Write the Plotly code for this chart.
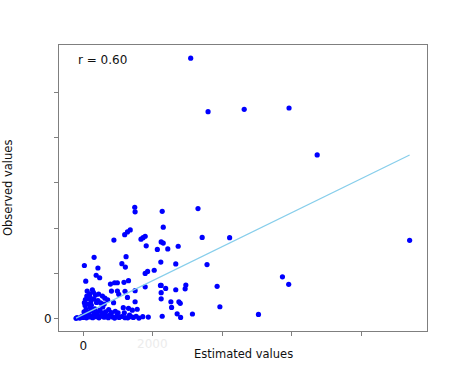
import plotly.graph_objects as go

# Estimated (x) and observed (y) values, in thousands
est_outliers = [30.9, 35.9, 46.3, 59.2, 67.3, 93.9, 57.3, 59.1, 50.4]
obs_outliers = [115.0, 91.4, 92.4, 93.0, 72.3, 34.6, 18.5, 15.2, 1.9]

est_mid = [33.0, 22.7, 23.0, 34.2, 42.1, 22.4, 23.0, 24.3, 27.3, 26.6, 35.6, 22.3,
           14.8, 14.9, 8.8, 11.9, 12.7, 13.5, 16.6, 17.2, 17.8, 18.1, 21.3, 3.1,
           12.3, 11.1, 0.3, 4.2, 12.1, 20.4, 18.5, 17.8, 3.7, 4.7, 0.7, 7.8,
           9.0, 9.8, 11.7, 13.0, 17.8, 22.2, 8.1, 9.8, 12.0, 10.2, 1.1, 2.9,
           4.4, 5.5, 14.9, 22.4, 1.0, 1.9, 6.2, 7.0, 12.7, 14.9, 8.7, 0.3,
           11.5, 13.0, 14.1, 15.5, 11.8, 13.7, 15.2, 17.1, 18.7, 22.7, 38.5, 29.5,
           29.3, 26.6, 23.7, 22.4, 22.4, 25.2, 27.5, 27.9, 25.4, 39.3, 27.0, 28.0, 31.4]
obs_mid = [48.6, 47.4, 40.4, 35.9, 35.8, 33.9, 33.4, 30.8, 32.0, 24.2, 23.9, 25.0,
           49.2, 47.2, 34.7, 37.1, 38.3, 39.2, 35.1, 35.8, 36.4, 32.2, 30.6, 27.1,
           27.4, 24.3, 23.5, 22.4, 22.8, 21.4, 20.9, 20.0, 19.2, 18.1, 16.6, 15.3,
           15.9, 15.9, 16.1, 16.8, 14.1, 14.7, 12.2, 12.2, 12.1, 10.8, 12.2, 11.7,
           10.9, 10.0, 12.4, 11.5, 10.0, 9.7, 9.1, 8.3, 9.4, 7.5, 7.1, 7.1,
           4.9, 4.6, 3.8, 4.2, 2.6, 0.9, 1.1, 0.9, 0.75, 1.1, 14.3, 14.9,
           13.2, 12.8, 13.4, 14.7, 8.8, 7.5, 7.5, 6.8, 5.0, 5.3, 2.2, 0.6, 2.1]

est_cluster = [-2.1, -1.8, -1.0, -0.5, 0.0, 0.4, 0.9, 1.3, 1.8, 2.2, 2.7, 3.1, 3.6, 4.0,
               4.5, 5.0, 5.5, 6.0, 6.6, 7.2, 7.8, 8.4, 9.0, 9.6, 10.3, 11.0, 12.0,
               12.8, 13.3, 14.4, 16.0,
               0.2, 0.8, 1.5, 2.0, 2.6, 3.3, 4.1, 4.8, 5.6, 6.4, 7.3, 8.1, 9.2, 10.0,
               0.5, 1.2, 2.3, 3.8,
               0.6, 1.4, 2.2, 3.0, 3.5, 4.2, 5.0, 1.8, 2.6, 6.0]
obs_cluster = [0.2, 0.5, 0.3, 1.0, 0.6, 1.5, 0.4, 2.0, 0.8, 1.2, 0.5, 2.3, 0.9, 1.6,
               0.4, 1.1, 2.5, 0.7, 1.4, 0.5, 1.9, 0.8, 0.3, 1.2, 0.6, 1.0, 0.5,
               0.4, 1.6, 0.6, 0.3,
               3.0, 4.2, 2.8, 5.0, 3.5, 4.4, 2.9, 3.8, 5.2, 3.1, 4.0, 2.7, 3.3, 2.6,
               5.8, 6.5, 6.0, 7.2,
               8.5, 9.0, 7.8, 8.8, 10.5, 8.0, 7.0, 11.0, 12.8, 6.5]

estimated = est_outliers + est_mid + est_cluster
observed = obs_outliers + obs_mid + obs_cluster

fit_intercept = 1.87
fit_slope = 0.7494
r_text = "r = 0.60"

x_ticks = [0, 20, 40, 60, 80]
y_ticks = [0, 20, 40, 60, 80, 100]

x_min, x_max = min(estimated), max(estimated)
line_x = [x_min, x_max]
line_y = [fit_intercept + fit_slope * v for v in line_x]

fig = go.Figure()
fig.add_trace(go.Scatter(x=estimated, y=observed, mode="markers",
                         marker=dict(color="#0000ff", size=5.2, line=dict(width=0)),
                         showlegend=False, hoverinfo="skip"))
fig.add_trace(go.Scatter(x=line_x, y=line_y, mode="lines",
                         line=dict(color="#87ceeb", width=1.2),
                         showlegend=False, hoverinfo="skip"))

axis_common = dict(showgrid=False, zeroline=False, showline=True, linecolor="#7f7f7f",
                   linewidth=1, mirror=True, ticks="outside", ticklen=4,
                   tickcolor="#7f7f7f", tickfont=dict(family="DejaVu Sans", size=12, color="#111"))
fig.update_xaxes(range=[-7.0, 98.9], tickvals=x_ticks,
                 ticktext=["0"] + [""] * (len(x_ticks) - 1), **axis_common)
fig.update_yaxes(range=[-5.4, 120.8], tickvals=y_ticks,
                 ticktext=["0"] + [""] * (len(y_ticks) - 1), **axis_common)

fig.update_layout(
    width=474, height=379,
    margin=dict(l=59, r=47, t=45, b=48),
    plot_bgcolor="white", paper_bgcolor="white",
    font=dict(family="DejaVu Sans", color="#111"),
    annotations=[
        dict(text=r_text, xref="paper", yref="paper", x=0.045, y=0.98,
             xanchor="left", yanchor="top", showarrow=False,
             font=dict(size=12, color="#111")),
        dict(text="Estimated values", xref="paper", yref="paper", x=0.5, y=0,
             xanchor="center", yanchor="middle", yshift=-23, showarrow=False,
             font=dict(size=11.5, color="#111")),
        dict(text="Observed values", xref="paper", yref="paper", x=0, y=0.5,
             xanchor="center", yanchor="middle", xshift=-51, textangle=-90,
             showarrow=False, font=dict(size=11.5, color="#111")),
        dict(text="2000", xref="x", yref="paper", x=x_ticks[1], y=0,
             xanchor="center", yanchor="top", yshift=-4, showarrow=False,
             font=dict(size=12, color="#ececec")),
    ],
)

fig.write_html("out.html", config={"displayModeBar": False},
               post_script="document.body.style.margin='0';")
